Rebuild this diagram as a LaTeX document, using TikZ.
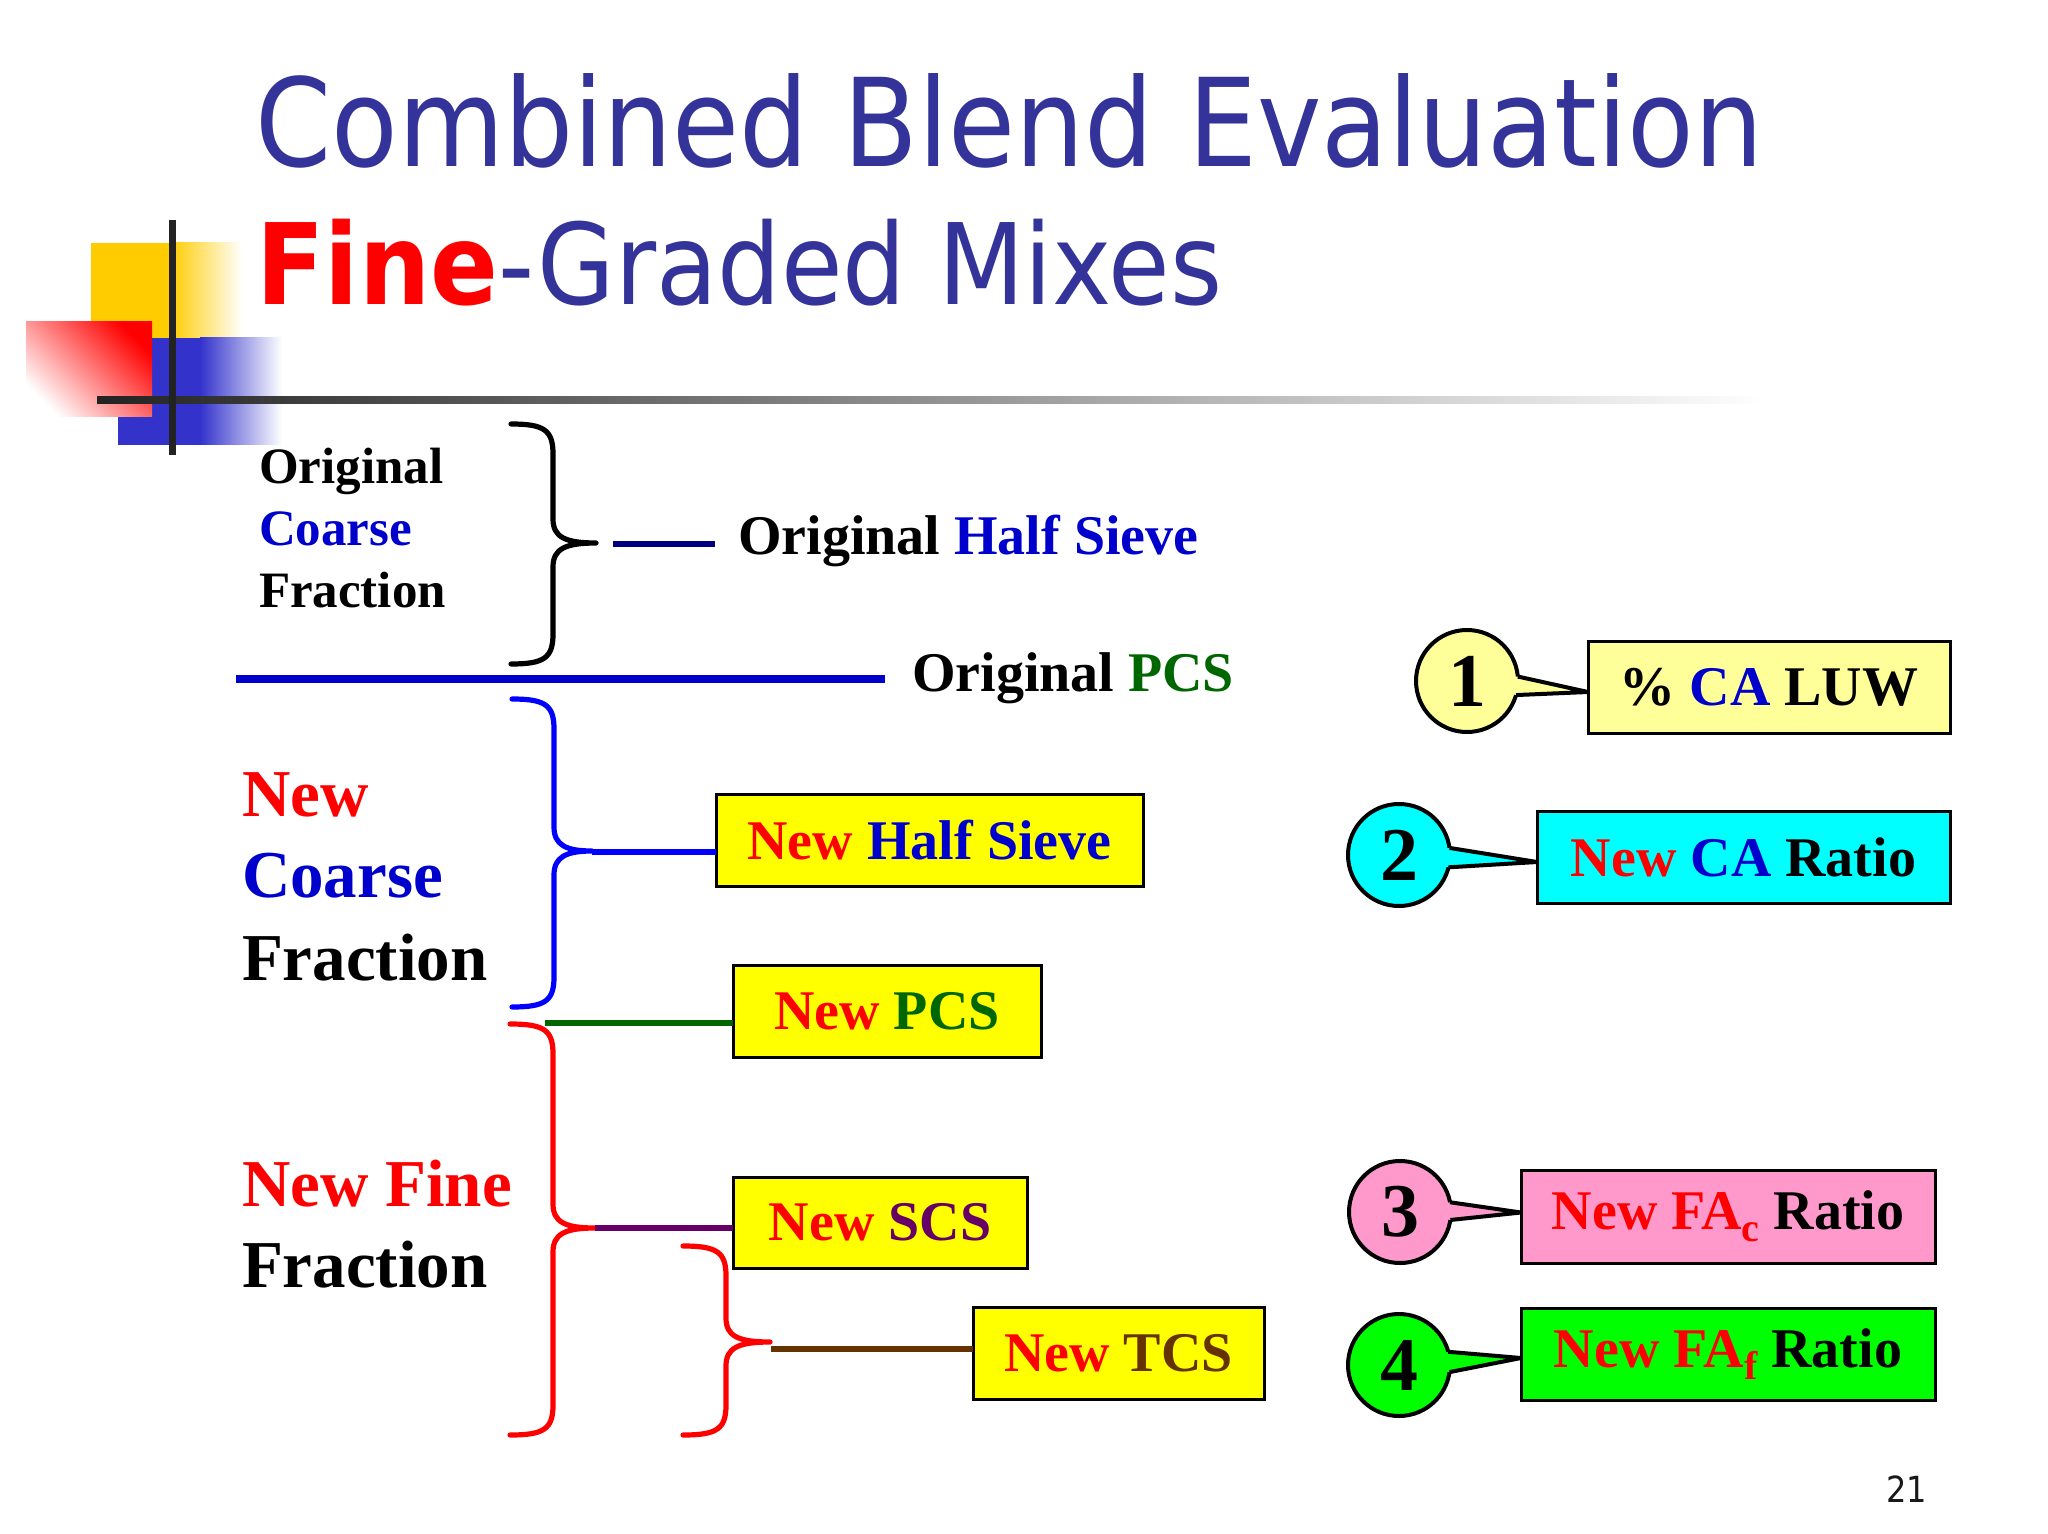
\documentclass[tikz,border=0pt]{standalone}
\usepackage{fontspec}
\usetikzlibrary{calc}
\setmainfont{Liberation Serif}
\newfontfamily\ttlfont[FakeStretch=0.89]{DejaVu Sans}
\definecolor{ttlblue}{RGB}{51,51,153}
\definecolor{myred}{RGB}{255,0,0}
\definecolor{myblue}{RGB}{0,0,204}
\definecolor{braceblue}{RGB}{0,0,255}
\definecolor{mygreen}{RGB}{0,102,0}
\definecolor{mypurple}{RGB}{102,0,102}
\definecolor{mybrown}{RGB}{102,51,0}
\definecolor{mynavy}{RGB}{0,0,128}
\definecolor{boxyellow}{RGB}{255,255,0}
\definecolor{ltyellow}{RGB}{255,255,153}
\definecolor{mycyan}{RGB}{0,255,255}
\definecolor{mypink}{RGB}{255,153,204}
\definecolor{mylime}{RGB}{0,255,0}
\definecolor{decoyellow}{RGB}{255,204,0}
\definecolor{decoblue}{RGB}{51,51,204}
\definecolor{darkline}{RGB}{35,35,35}
\definecolor{pgnum}{RGB}{25,25,25}
% brace: #1 colour, #2 x tip, #3 x vertical, #4 x point, #5 y top, #6 y middle, #7 y bottom
\newcommand\fracbrace[7]{%
  \draw[brc,#1] (#2,#5) .. controls ({#3-9},#5) and (#3,{#5+6}) .. (#3,{#5+30})
    -- (#3,{#6-24}) .. controls (#3,{#6-6}) and ({#3+12},#6) .. (#4,#6)
    .. controls ({#3+12},#6) and (#3,{#6+6}) .. (#3,{#6+24})
    -- (#3,{#7-30}) .. controls (#3,{#7-6}) and ({#3-9},#7) .. (#2,#7);}
% callout tail: #1 circle, #2 box, #3 colour, #4 upper angle, #5 lower angle, #6 yshift of tip
\newcommand\calltail[6]{%
  \fill[#3] ($(#1.center)!0.8!(#1.#4)$) -- (#1.#4) -- ([yshift=#6]#2.west) -- (#1.#5) -- ($(#1.center)!0.8!(#1.#5)$) -- cycle;
  \draw[line width=2pt, line join=round] (#1.#4) -- ([yshift=#6]#2.west) -- (#1.#5);}
\begin{document}
\begin{tikzpicture}[x=0.5pt,y=-0.5pt,
  lblmd/.style={inner sep=0pt, outer sep=0pt, anchor=base west, font=\bfseries\fontsize{28pt}{32pt}\selectfont},
  lblbg/.style={lblmd, font=\bfseries\fontsize{33.5pt}{38pt}\selectfont},
  lblsm/.style={lblmd, font=\bfseries\fontsize{25.5pt}{30pt}\selectfont},
  ybox/.style={draw=black, line width=1.5pt, inner sep=0pt, outer sep=0pt, font=\bfseries\fontsize{28pt}{32pt}\selectfont},
  numc/.style={circle, draw=black, line width=2pt, minimum size=51pt, inner sep=0pt, outer sep=0pt, font=\bfseries\fontsize{38pt}{40pt}\selectfont},
  brc/.style={line width=2.6pt, line cap=round, line join=round},
  conn/.style={line width=2.6pt},
]
\useasboundingbox (0,0) rectangle (2048,1534);
\fill[white] (0,0) rectangle (2048,1534);

% decoration
\fill[decoyellow] (91,243) rectangle (170,338);
\shade[left color=decoyellow, right color=white] (170,243) rectangle (242,338);
\fill[decoblue] (118,338) rectangle (200,445);
\shade[left color=decoblue, right color=white] (200,338) rectangle (282,445);
\shade[top color=myred, bottom color=white, shading angle=-45] (26,322) rectangle (152,417);
\shade[left color=darkline, right color=white] (97,396.5) rectangle (1765,403.5);
\fill[darkline] (168.5,220) rectangle (175.5,455);

% title
\node[anchor=base west, inner sep=0pt, text=ttlblue, font=\ttlfont\fontsize{61.2pt}{70pt}\selectfont] (ttl1) at (255,167) {Combined Blend Evaluation};
\node[anchor=base west, inner sep=0pt, text=ttlblue, font=\ttlfont\fontsize{56.2pt}{66pt}\selectfont] (ttl2) at (256,305) {\textcolor{myred}{\bfseries Fine}-Graded Mixes};

% original coarse fraction
\node[lblsm] (o1) at (259,483) {Original};
\node[lblsm, text=myblue] (o2) at (259,545) {Coarse};
\node[lblsm] (o3) at (259,607) {Fraction};
\fracbrace{black}{511}{553}{596}{424}{543}{664}
\coordinate (hsa) at (613,544);
\coordinate (hsb) at (715,544);
\draw[mynavy, line width=3pt] (hsa) -- (hsb);
\node[lblmd] (ohs) at (738,554) {Original \textcolor{myblue}{Half Sieve}};

\coordinate (pla) at (236,679);
\coordinate (plb) at (885,679);
\draw[myblue, line width=4pt] (pla) -- (plb);
\node[lblmd] (opcs) at (912,691) {Original \textcolor{mygreen}{PCS}};

% new coarse fraction
\node[lblbg, text=myred] (nc1) at (242,816) {New};
\node[lblbg, text=myblue] (nc2) at (242,897) {Coarse};
\node[lblbg] (nc3) at (242,980) {Fraction};
\fracbrace{braceblue}{512}{554}{592}{699}{851}{1007}

% new fine fraction
\node[lblbg, text=myred] (nf1) at (242,1206) {New Fine};
\node[lblbg] (nf2) at (242,1287) {Fraction};
\fracbrace{myred}{510}{553}{595}{1024}{1228}{1435}
\fracbrace{myred}{683}{726}{770}{1246}{1342}{1435}

% yellow boxes
\node[ybox, fill=boxyellow, minimum width=213.5pt, minimum height=46pt] (hs) at (929.5,840) {\textcolor{myred}{New} \textcolor{myblue}{Half Sieve}};
\node[ybox, fill=boxyellow, minimum width=154pt, minimum height=46pt] (pcs) at (887,1011) {\textcolor{myred}{New} \textcolor{mygreen}{PCS}};
\node[ybox, fill=boxyellow, minimum width=147pt, minimum height=45.5pt] (scs) at (880,1222.5) {\textcolor{myred}{New} \textcolor{mypurple}{SCS}};
\node[ybox, fill=boxyellow, minimum width=145.5pt, minimum height=46pt] (tcs) at (1118.5,1353) {\textcolor{myred}{New} \textcolor{mybrown}{TCS}};

% connectors
\coordinate (bbp) at (592,852);
\draw[braceblue, conn] (bbp) -- (bbp -| hs.west);
\coordinate (gp) at (545,1023);
\draw[mygreen, conn] (gp) -- (gp -| pcs.west);
\coordinate (rbp) at (595,1228);
\draw[mypurple, conn] (rbp) -- (rbp -| scs.west);
\coordinate (sbp) at (771,1349);
\draw[mybrown, conn] (sbp) -- (sbp -| tcs.west);

% right side callouts
\node[ybox, fill=ltyellow, minimum width=181pt, minimum height=46pt] (b1) at (1769,687) {\% \textcolor{myblue}{CA} LUW};
\node[ybox, fill=mycyan, minimum width=206.5pt, minimum height=46pt] (b2) at (1743.5,857) {\textcolor{myred}{New} \textcolor{myblue}{CA} Ratio};
\node[ybox, fill=mypink, minimum width=207pt, minimum height=46.5pt] (b3) at (1728,1216.5) {\textcolor{myred}{New FA\raisebox{-6pt}{\fontsize{20pt}{22pt}\selectfont c}} Ratio};
\node[ybox, fill=mylime, minimum width=207pt, minimum height=46pt] (b4) at (1728,1354) {\textcolor{myred}{New FA\raisebox{-6pt}{\fontsize{20pt}{22pt}\selectfont f}} Ratio};

\node[numc, fill=ltyellow] (c1) at (1467,681) {1};
\node[numc, fill=mycyan] (c2) at (1399,855) {2};
\node[numc, fill=mypink] (c3) at (1400,1212) {3};
\node[numc, fill=mylime] (c4) at (1399,1365) {4};
\calltail{c1}{b1}{ltyellow}{5}{-16}{-2.5pt}
\calltail{c2}{b2}{mycyan}{8}{-14}{-2.5pt}
\calltail{c3}{b3}{mypink}{11}{-9}{2pt}
\calltail{c4}{b4}{mylime}{15}{-8}{-2pt}

% page number
\node[anchor=base west, inner sep=0pt, text=pgnum, font=\ttlfont\fontsize{18pt}{20pt}\selectfont] (pg) at (1886,1502) {21};
\end{tikzpicture}
\end{document}
